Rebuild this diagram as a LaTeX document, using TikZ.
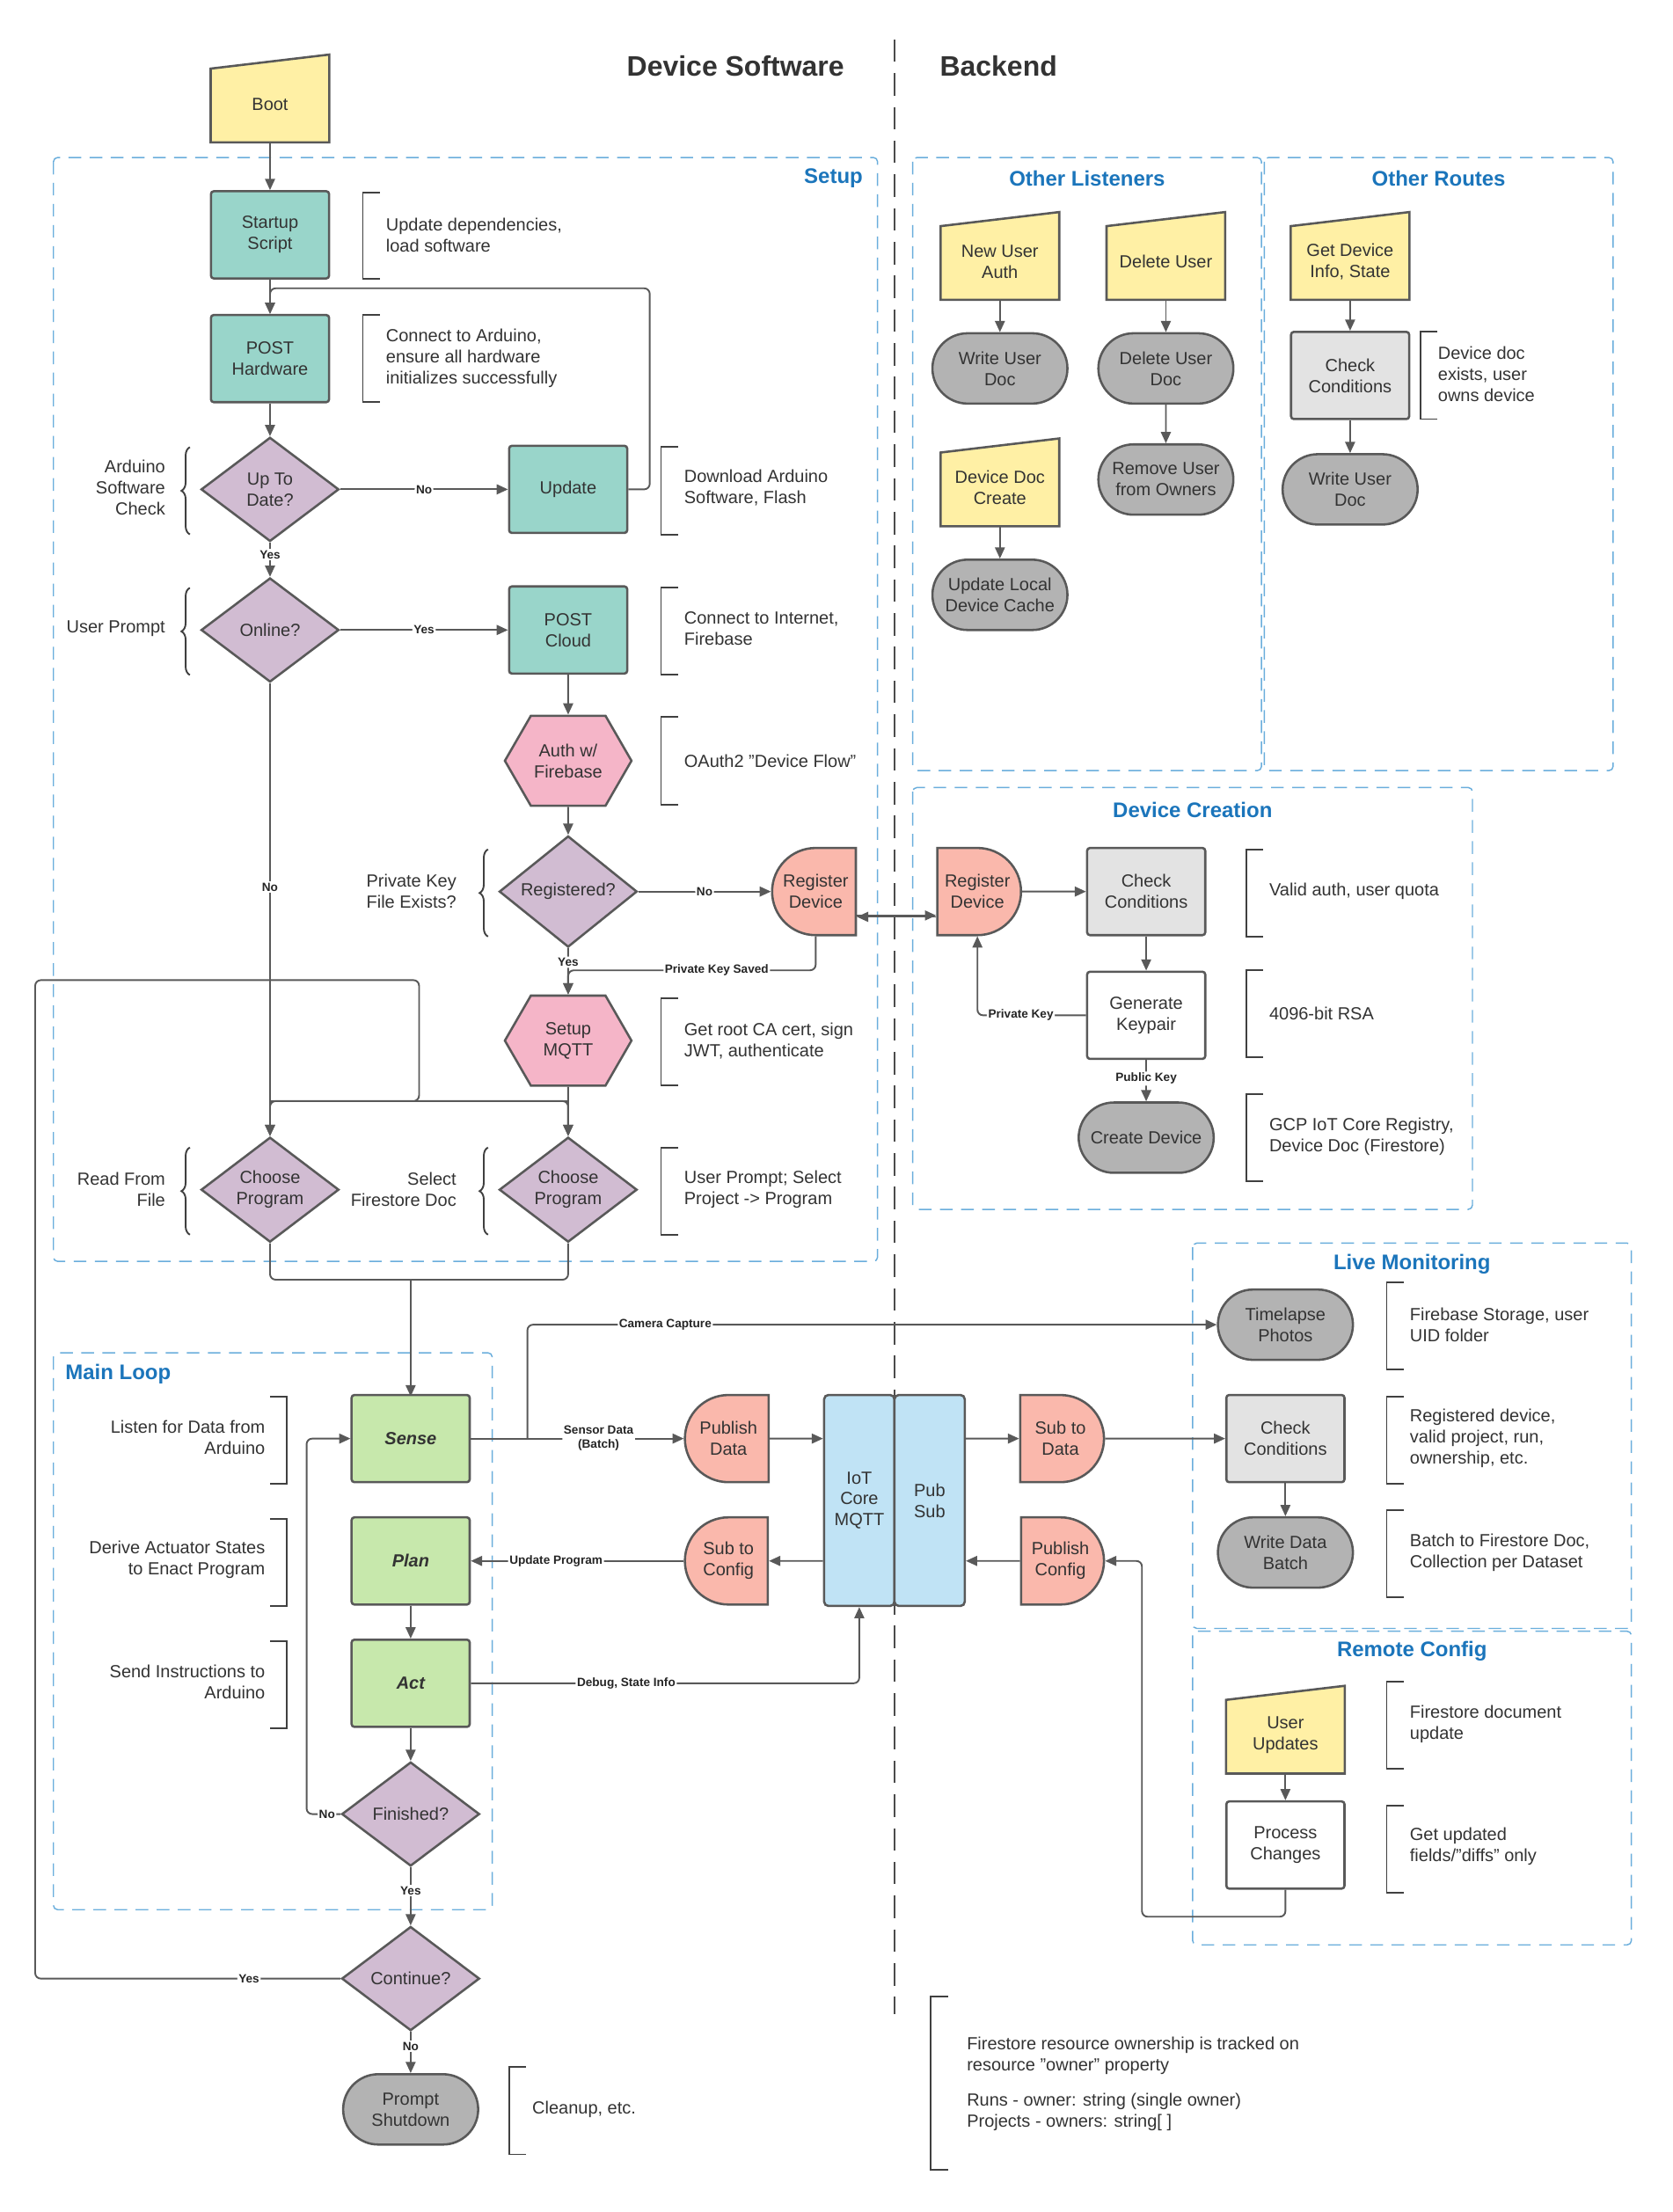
\documentclass[tikz,border=0pt]{standalone}
\usepackage{fontspec}
\setmainfont{Liberation Sans}
\usetikzlibrary{shapes.geometric,shapes.misc,shapes.symbols,arrows.meta,calc,decorations.pathreplacing}
\definecolor{tealc}{HTML}{99D5CA}
\definecolor{ylwc}{HTML}{FFF0A5}
\definecolor{purpc}{HTML}{D1BCD2}
\definecolor{pinkc}{HTML}{F5B5C8}
\definecolor{salmc}{HTML}{FAB8AC}
\definecolor{grayc}{HTML}{B3B3B3}
\definecolor{lgrayc}{HTML}{E3E3E3}
\definecolor{greenc}{HTML}{C7E8AC}
\definecolor{bluec}{HTML}{C0E3F5}
\definecolor{linec}{HTML}{595959}
\definecolor{dashc}{HTML}{6AAEDC}
\definecolor{titlec}{HTML}{1B75BB}
\newcommand{\maninput}[3]{%
  \node[mansize] (#1) at #2 {};
  \draw[shapeline,fill=ylwc] (#1.south west) -- ($(#1.north west)+(0,10)$) -- (#1.north east) -- (#1.south east) -- cycle;
  \node[txt,align=center] (#1-t) at ($(#1.center)+(0,4)$) {#3};}
\newcommand{\sqbr}[4]{% x, ytop, ybot, name+text
  \draw[brk] (#1+12,#2) -- (#1,#2) -- (#1,#3) -- (#1+12,#3);
  \node[txt,anchor=west,align=left] (#4) at (#1+13,{(#2+#3)/2}) {\detokenize{}};}
\begin{document}
\begin{tikzpicture}[x=1pt,y=-1pt,
    txt/.style={font=\fontsize{12.5}{15}\selectfont,text=black!80},
    shapeline/.style={draw=linec,line width=1.6pt},
    base/.style={txt,shapeline,align=center,inner sep=2pt},
    proc/.style={base,rectangle,rounded corners=2pt,minimum width=84pt,minimum height=62pt},
    teal/.style={proc,fill=tealc},
    green/.style={proc,fill=greenc,font=\fontsize{12.5}{15}\selectfont\bfseries\itshape},
    check/.style={proc,fill=lgrayc},
    white/.style={proc,fill=white},
    decide/.style={base,diamond,fill=purpc,minimum width=98pt,minimum height=74pt,inner sep=0pt},
    term/.style={base,rounded rectangle,fill=grayc,minimum width=100pt,minimum height=50pt},
    hexa/.style={base,signal,signal to=west and east,signal pointer angle=120,fill=pinkc,minimum width=90pt,minimum height=64pt},
    delayw/.style={base,rounded rectangle,rounded rectangle east arc=none,fill=salmc,minimum width=62pt,minimum height=62pt},
    delaye/.style={base,rounded rectangle,rounded rectangle west arc=none,fill=salmc,minimum width=62pt,minimum height=62pt},
    queue/.style={base,rectangle,rounded corners=3pt,fill=bluec,minimum width=50pt,minimum height=150pt},
    mansize/.style={minimum width=84pt,minimum height=62pt,inner sep=0pt},
    conn/.style={draw=linec,line width=1.2pt,rounded corners=4pt,-{Triangle[length=8pt,width=7pt]}},
    line/.style={draw=linec,line width=1.2pt,rounded corners=4pt},
    lbl/.style={font=\fontsize{8.5}{10}\selectfont\bfseries,text=black!85,fill=white,inner sep=1pt,align=center},
    brk/.style={draw=black!75,line width=1.2pt},
    group/.style={draw=dashc,line width=0.9pt,dash pattern=on 9pt off 6pt,rounded corners=3pt},
    gtitle/.style={font=\fontsize{15}{18}\selectfont\bfseries,text=titlec},
    head/.style={font=\fontsize{20}{24}\selectfont\bfseries,text=black!80}]
  \useasboundingbox[fill=white] (0,0) rectangle (1189,1573);
  % containers and headings
  \draw[group] (38,112) rectangle (624,897);
  \draw[group] (649,112) rectangle (897,548);
  \draw[group] (899,112) rectangle (1147,548);
  \draw[group] (649,560) rectangle (1047,860);
  \draw[group] (848,884) rectangle (1160,1158);
  \draw[group] (848,1160) rectangle (1160,1383);
  \draw[group] (38,962) rectangle (350,1358);
  \node[gtitle,anchor=east] (tsetup) at (617,127) {Setup};
  \node[gtitle] (tlisten) at (773,127) {Other Listeners};
  \node[gtitle] (troutes) at (1023,127) {Other Routes};
  \node[gtitle] (tcreate) at (848,576) {Device Creation};
  \node[gtitle] (tlive) at (1004,899) {Live Monitoring};
  \node[gtitle] (tremote) at (1004,1174) {Remote Config};
  \node[gtitle,anchor=west] (tloop) at (43,977) {Main Loop};
  \draw[draw=black!70,line width=1.6pt,dash pattern=on 16pt off 8pt] (636,28) -- (636,1432);
  \node[head] (hdev) at (523,47) {Device Software};
  \node[head] (hback) at (710,47) {Backend};

  % setup column
  \maninput{boot}{(192,70)}{Boot}
  \node[teal] (startup) at (192,167) {Startup\\Script};
  \node[teal] (posthw) at (192,255) {POST\\Hardware};
  \node[decide] (uptodate) at (192,348) {Up To\\Date?};
  \node[teal] (update) at (404,348) {Update};
  \node[decide] (online) at (192,448) {Online?};
  \node[teal] (postcloud) at (404,448) {POST\\Cloud};
  \node[hexa] (auth) at (404,541) {Auth w/\\Firebase};
  \node[decide] (registered) at (404,634) {Registered?};
  \node[delayw] (regdev) at (580,634) {Register\\Device};
  \node[hexa] (mqtt) at (404,740) {Setup\\MQTT};
  \node[decide] (chooseA) at (192,846) {Choose\\Program};
  \node[decide] (chooseB) at (404,846) {Choose\\Program};
  \coordinate (loopTop) at (298,697);
  \coordinate (split) at (298,783);
  \coordinate (merge) at (292,910);

  \draw[conn] (boot) -- (startup);
  \draw[conn] (startup) -- (posthw);
  \draw[conn] (posthw) -- (uptodate);
  \draw[conn] (uptodate) -- node[lbl] {No} (update);
  \draw[conn] (update.east) -| (462,205) -| (posthw.north);
  \draw[conn] (uptodate) -- node[lbl,pos=0.35] {Yes} (online);
  \draw[conn] (online) -- node[lbl] {Yes} (postcloud);
  \draw[conn] (online) -- node[lbl,pos=0.45] {No} (chooseA);
  \draw[conn] (postcloud) -- (auth);
  \draw[conn] (auth) -- (registered);
  \draw[conn] (registered) -- node[lbl] {No} (regdev);
  \draw[conn] (registered) -- node[lbl,pos=0.3] {Yes} (mqtt);
  \draw[conn] (regdev.south) |- node[lbl,pos=0.7] {Private Key Saved} (404,690) -- (mqtt.north);
  \draw[conn] (mqtt) -- (chooseB);
  \draw[line] (192,783) -- (404,783);
  \draw[line] (chooseA.south) |- (merge) -| (chooseB.south);
  \draw[conn] (merge) -- ++(0,83);

  % setup notes
  \sqbr{258}{137}{198}{nStartup}
  \node[txt,anchor=west,align=left] at (271,167) {Update dependencies,\\load software};
  \sqbr{258}{224}{286}{nPost}
  \node[txt,anchor=west,align=left] at (271,255) {Connect to Arduino,\\ensure all hardware\\initializes successfully};
  \sqbr{470}{318}{380}{nUpdate}
  \node[txt,anchor=west,align=left] at (483,347) {Download Arduino\\Software, Flash};
  \sqbr{470}{418}{480}{nCloud}
  \node[txt,anchor=west,align=left] at (483,447) {Connect to Internet,\\Firebase};
  \sqbr{470}{510}{572}{nAuth}
  \node[txt,anchor=west,align=left] at (483,541) {OAuth2 "Device Flow"};
  \sqbr{470}{710}{772}{nMqtt}
  \node[txt,anchor=west,align=left] at (483,740) {Get root CA cert, sign\\JWT, authenticate};
  \sqbr{470}{816}{878}{nChoose}
  \node[txt,anchor=west,align=left] at (483,846) {User Prompt; Select\\Project -> Program};
  \draw[brk,decorate,decoration={brace,amplitude=6pt}] (135,380) -- (135,318);
  \node[txt,anchor=east,align=right] at (121,347) {Arduino\\Software\\Check};
  \draw[brk,decorate,decoration={brace,amplitude=6pt}] (135,480) -- (135,418);
  \node[txt,anchor=east,align=right] at (121,447) {User Prompt};
  \draw[brk,decorate,decoration={brace,amplitude=6pt}] (347,666) -- (347,604);
  \node[txt,anchor=east,align=right] at (328,634) {Private Key\\File Exists?};
  \draw[brk,decorate,decoration={brace,amplitude=6pt}] (135,878) -- (135,816);
  \node[txt,anchor=east,align=right] at (121,846) {Read From\\File};
  \draw[brk,decorate,decoration={brace,amplitude=6pt}] (347,878) -- (347,816);
  \node[txt,anchor=east,align=right] at (328,846) {Select\\Firestore Doc};

  % other listeners / routes
  \maninput{newuser}{(711,182)}{New User\\Auth}
  \node[term] (writeuser) at (711,262) {Write User\\Doc};
  \maninput{deluser}{(829,182)}{Delete User}
  \node[term] (deldoc) at (829,262) {Delete User\\Doc};
  \node[term] (remowner) at (829,341) {Remove User\\from Owners};
  \maninput{devdoc}{(711,343)}{Device Doc\\Create};
  \node[term] (cache) at (711,423) {Update Local\\Device Cache};
  \maninput{getdev}{(960,182)}{Get Device\\Info, State}
  \node[check] (checkR) at (960,267) {Check\\Conditions};
  \node[term] (writeR) at (960,348) {Write User\\Doc};
  \draw[conn] (newuser) -- (writeuser);
  \draw[conn] (deluser) -- (deldoc);
  \draw[conn] (deldoc) -- (remowner);
  \draw[conn] (devdoc) -- (cache);
  \draw[conn] (getdev) -- (checkR);
  \draw[conn] (checkR) -- (writeR);
  \sqbr{1010}{236}{298}{nRoute}
  \node[txt,anchor=west,align=left] at (1019,266) {Device doc\\exists, user\\owns device};

  % device creation
  \node[delaye] (regback) at (695,634) {Register\\Device};
  \node[check] (checkC) at (815,634) {Check\\Conditions};
  \node[white] (keypair) at (815,722) {Generate\\Keypair};
  \node[term] (create) at (815,809) {Create Device};
  \draw[conn] ([yshift=-17pt]regdev.east) -- ([yshift=-17pt]regback.west);
  \draw[conn] ([yshift=-18pt]regback.west) -- ([yshift=-18pt]regdev.east);
  \draw[conn] (regback) -- (checkC);
  \draw[conn] (checkC) -- (keypair);
  \draw[conn] (keypair.west) -| node[lbl,pos=0.3] {Private Key} (regback.south);
  \draw[conn] (keypair) -- node[lbl,pos=0.45] {Public Key} (create);
  \sqbr{886}{604}{666}{nValid}
  \node[txt,anchor=west,align=left] at (899,634) {Valid auth, user quota};
  \sqbr{886}{690}{752}{nRsa}
  \node[txt,anchor=west,align=left] at (899,721) {4096-bit RSA};
  \sqbr{886}{778}{840}{nGcp}
  \node[txt,anchor=west,align=left] at (899,808) {GCP IoT Core Registry,\\Device Doc (Firestore)};

  % main loop
  \node[green] (sense) at (292,1023) {Sense};
  \node[green] (plan) at (292,1110) {Plan};
  \node[green] (act) at (292,1197) {Act};
  \node[decide] (finished) at (292,1290) {Finished?};
  \node[decide] (continue) at (292,1407) {Continue?};
  \node[term] (shutdown) at (292,1500) {Prompt\\Shutdown};
  \draw[conn] (plan) -- (act);
  \draw[conn] (act) -- (finished);
  \draw[conn] (finished.west) -- node[lbl,pos=0.4] {No} (218,1290) |- (sense.west);
  \draw[conn] (finished) -- node[lbl,pos=0.4] {Yes} (continue);
  \draw[conn] (continue) -- node[lbl,pos=0.35] {No} (shutdown);
  \draw[conn] (continue.west) -- node[lbl,pos=0.3] {Yes} (25,1407) |- (loopTop) -- (split) -| (chooseA.north);
  \draw[conn] (split) -| (chooseB.north);
  \draw[brk] (192,993) -- (204,993) -- (204,1055) -- (192,1055);
  \node[txt,anchor=east,align=right] at (192,1022) {Listen for Data from\\Arduino};
  \draw[brk] (192,1080) -- (204,1080) -- (204,1142) -- (192,1142);
  \node[txt,anchor=east,align=right] at (192,1109) {Derive Actuator States\\to Enact Program};
  \draw[brk] (192,1167) -- (204,1167) -- (204,1229) -- (192,1229);
  \node[txt,anchor=east,align=right] at (192,1196) {Send Instructions to\\Arduino};
  \sqbr{362}{1470}{1532}{nClean}
  \node[txt,anchor=west,align=left] at (375,1500) {Cleanup, etc.};

  % messaging
  \node[delayw] (pubdata) at (518,1023) {Publish\\Data};
  \node[delayw] (subconfig) at (518,1110) {Sub to\\Config};
  \node[queue] (iot) at (611,1067) {IoT\\Core\\MQTT};
  \node[queue] (pubsub) at (661,1067) {Pub\\Sub};
  \node[delaye] (subdata) at (754,1023) {Sub to\\Data};
  \node[delaye] (pubconfig) at (754,1110) {Publish\\Config};
  \coordinate (camsplit) at (375,1023);
  \draw[conn] (sense) -- node[lbl,pos=0.6] {Sensor Data\\(Batch)} (pubdata);
  \draw[conn] (pubdata) -- (pubdata -| iot.west);
  \draw[conn] (subconfig -| iot.west) -- (subconfig);
  \draw[conn] (subconfig) -- node[lbl,pos=0.6] {Update Program} (plan);
  \draw[conn] (act.east) -| node[lbl,pos=0.2] {Debug, State Info} (iot.south);
  \draw[conn] (subdata -| pubsub.east) -- (subdata);
  \draw[conn] (pubconfig) -- (pubconfig -| pubsub.east);

  % live monitoring / remote config
  \node[term] (timelapse) at (914,942) {Timelapse\\Photos};
  \node[check] (checkL) at (914,1023) {Check\\Conditions};
  \node[term] (writebatch) at (914,1104) {Write Data\\Batch};
  \maninput{userupd}{(914,1230)}{User\\Updates}
  \node[white] (process) at (914,1312) {Process\\Changes};
  \draw[conn] (camsplit) |- node[lbl,pos=0.6] {Camera Capture} (timelapse.west);
  \draw[conn] (subdata) -- (checkL);
  \draw[conn] (checkL) -- (writebatch);
  \draw[conn] (userupd) -- (process);
  \draw[conn] (process.south) |- (812,1363) |- (pubconfig.east);
  \sqbr{986}{912}{974}{nTime}
  \node[txt,anchor=west,align=left] at (999,942) {Firebase Storage, user\\UID folder};
  \sqbr{986}{993}{1055}{nCheckL}
  \node[txt,anchor=west,align=left] at (999,1023) {Registered device,\\valid project, run,\\ownership, etc.};
  \sqbr{986}{1074}{1136}{nBatch}
  \node[txt,anchor=west,align=left] at (999,1104) {Batch to Firestore Doc,\\Collection per Dataset};
  \sqbr{986}{1196}{1258}{nUpd}
  \node[txt,anchor=west,align=left] at (999,1226) {Firestore document\\update};
  \sqbr{986}{1284}{1346}{nDiff}
  \node[txt,anchor=west,align=left] at (999,1313) {Get updated\\fields/"diffs" only};

  % ownership note
  \draw[brk] (674,1420) -- (662,1420) -- (662,1543) -- (674,1543);
  \node[txt,anchor=west,align=left] (note) at (684,1482) {Firestore resource ownership is tracked on\\resource "owner" property\\[10pt]Runs - owner: string (single owner)\\Projects - owners: string[ ]};
\end{tikzpicture}
\end{document}
